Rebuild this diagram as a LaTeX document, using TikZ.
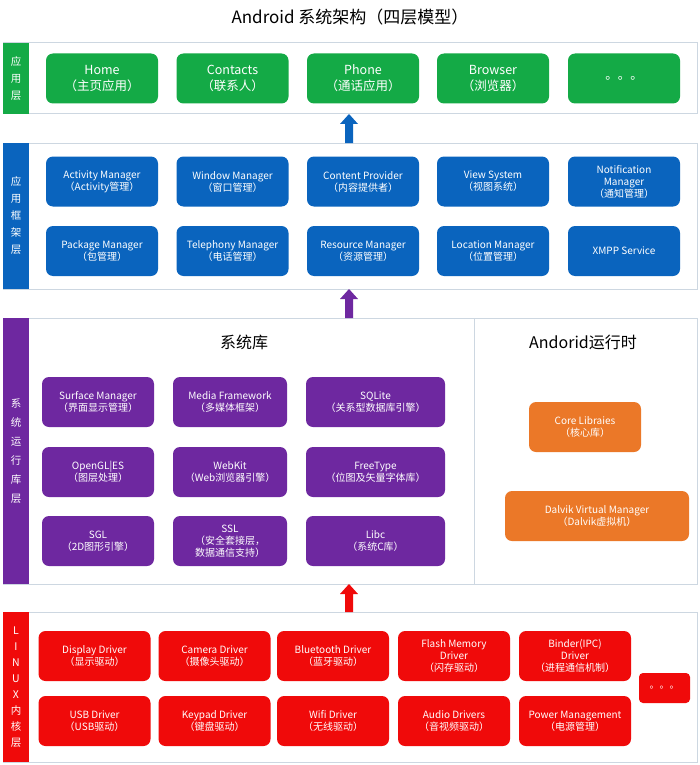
\documentclass[tikz,border=0pt]{standalone}
\usepackage{fontspec}
\setmainfont{Noto Sans CJK SC}
\usetikzlibrary{positioning}
\definecolor{appgreen}{RGB}{20,170,70}
\definecolor{fwblue}{RGB}{10,100,190}
\definecolor{libpurple}{RGB}{110,40,160}
\definecolor{rtorange}{RGB}{235,120,40}
\definecolor{kred}{RGB}{240,10,10}
\definecolor{frame}{RGB}{205,215,225}
\tikzset{
  box/.style={rounded corners=7pt, text=white, align=center, font=\fontsize{10}{12}\selectfont,
    minimum height=50pt, inner sep=1pt},
  layer/.style={draw=frame, line width=1pt, fill=white},
  sidebar/.style={align=center, text=white, font=\fontsize{10.5}{17}\selectfont},
  uparrow/.style={fill=#1}
}
\newcommand{\blockarrow}[4]{% x, ytop, ybottom, colour
  \fill[#4] (#1-4,#3) -- (#1-4,#2+10) -- (#1-9,#2+10) -- (#1,#2) -- (#1+9,#2+10) -- (#1+4,#2+10) -- (#1+4,#3) -- cycle;}
\begin{document}
\begin{tikzpicture}[x=1pt,y=-1pt]
\useasboundingbox (0,0) rectangle (700,765);

\node (title) at (350,17) {\fontsize{17}{20}\selectfont Android 系统架构（四层模型）};

% layers
\draw[layer] (3,43) rectangle (697,114);
\fill[appgreen] (3,43) rectangle (29,114);
\node[sidebar] (l1) at (16,78.5) {应\\用\\层};
\draw[layer] (3,143) rectangle (697,289);
\fill[fwblue] (3,143) rectangle (29,289);
\node[sidebar] (l2) at (16,216) {应\\用\\框\\架\\层};
\draw[layer] (3,318) rectangle (697,584);
\fill[libpurple] (3,318) rectangle (29,584);
\draw[frame, line width=1pt] (474,318) -- (474,584);
\node[sidebar, font=\fontsize{10.5}{19}\selectfont] (l3) at (16,451) {系\\统\\运\\行\\库\\层};
\draw[layer] (3,612) rectangle (697,762);
\fill[kred] (3,612) rectangle (29,762);
\node[sidebar, font=\fontsize{10.5}{16}\selectfont] (l4) at (16,687) {L\\I\\N\\U\\X\\内\\核\\层};

% arrows
\blockarrow{349}{114}{143}{fwblue}
\blockarrow{349}{289}{318}{libpurple}
\blockarrow{349}{584}{612}{kred}

% application layer
\foreach \x/\n/\t in {102/home/Home\\（主页应用）, 232.5/contacts/Contacts\\（联系人）,
    363/phone/Phone\\（通话应用）, 493/browser/Browser\\（浏览器）, 624/appmore/。。。}
  \node[box, fill=appgreen, minimum width=112pt, font=\fontsize{12.5}{16}\selectfont] (\n) at (\x,78.5) {\t};

% framework layer
\foreach \x/\n/\t in {102/activity/Activity Manager\\（Activity管理）, 232.5/window/Window Manager\\（窗口管理）,
    363/content/Content Provider\\（内容提供者）, 493/view/View System\\（视图系统）,
    624/notify/Notification\\Manager\\（通知管理）}
  \node[box, fill=fwblue, minimum width=112pt] (\n) at (\x,181.5) {\t};
\foreach \x/\n/\t in {102/package/Package Manager\\（包管理）, 232.5/telephony/Telephony Manager\\（电话管理）,
    363/resource/Resource Manager\\（资源管理）, 493/location/Location Manager\\（位置管理）,
    624/xmpp/XMPP Service}
  \node[box, fill=fwblue, minimum width=112pt] (\n) at (\x,251) {\t};

% libraries
\node (libtitle) at (244,342) {\fontsize{16}{18}\selectfont 系统库};
\node (rttitle) at (583,342) {\fontsize{16}{18}\selectfont Andorid运行时};
\foreach \y/\a/\b/\c in {402/{Surface Manager\\（界面显示管理）}/{Media Framework\\（多媒体框架）}/{SQLite\\（关系型数据库引擎）},
    472/{OpenGL|ES\\（图层处理）}/{WebKit\\（Web浏览器引擎）}/{FreeType\\（位图及矢量字体库）},
    541/{SGL\\（2D图形引擎）}/{SSL\\（安全套接层，\\数据通信支持）}/{Libc\\（系统C库）}} {
  \node[box, fill=libpurple, minimum width=112pt] at (98,\y) {\a};
  \node[box, fill=libpurple, minimum width=114pt] at (230,\y) {\b};
  \node[box, fill=libpurple, minimum width=139pt] at (375.5,\y) {\c};
}
\node[box, fill=rtorange, minimum width=112pt] (core) at (585,427) {Core Libraies\\（核心库）};
\node[box, fill=rtorange, minimum width=184pt] (dalvik) at (597,516) {Dalvik Virtual Manager\\（Dalvik虚拟机）};

% kernel
\foreach \x/\n/\t in {94.5/display/Display Driver\\（显示驱动）, 214.5/camera/Camera Driver\\（摄像头驱动）,
    333/bluetooth/Bluetooth Driver\\（蓝牙驱动）, 454/flash/Flash Memory\\Driver\\（闪存驱动）,
    575/binder/Binder(IPC)\\Driver\\（进程通信机制）}
  \node[box, fill=kred, minimum width=112pt] (\n) at (\x,656) {\t};
\foreach \x/\n/\t in {94.5/usb/USB Driver\\（USB驱动）, 214.5/keypad/Keypad Driver\\（键盘驱动）,
    333/wifi/Wifi Driver\\（无线驱动）, 454/audio/Audio Drivers\\（音视频驱动）,
    575/power/Power Management\\（电源管理）}
  \node[box, fill=kred, minimum width=112pt] (\n) at (\x,721) {\t};
\node[box, fill=kred, minimum width=51pt, minimum height=30pt, rounded corners=4pt] (kmore) at (664.5,688) {。。。};
\end{tikzpicture}
\end{document}
